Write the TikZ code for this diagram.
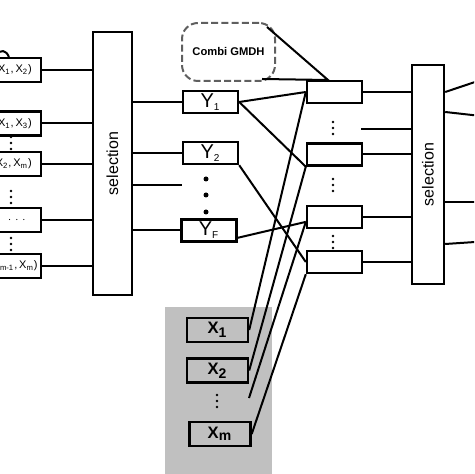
\documentclass[tikz,border=0pt]{standalone}
\usepackage{fontspec}
\setmainfont{Liberation Sans}
\usetikzlibrary{calc}
\definecolor{inshade}{RGB}{192,192,192}
\definecolor{dashgray}{RGB}{95,95,95}
\tikzset{
  unitbox/.style={draw,line width=1.2pt,fill=white,inner sep=0pt,minimum width=27.5pt,minimum height=11pt},
  pairbox/.style={unitbox,anchor=east,inner xsep=4.5pt,minimum height=12pt,font=\fontsize{5.5}{6}\selectfont},
  ybox/.style={unitbox,font=\fontsize{10}{11}\selectfont},
  inbox/.style={unitbox,fill=inshade,minimum width=30.5pt,minimum height=12pt,font=\fontsize{8.3}{9}\selectfont\bfseries},
  selbox/.style={draw,line width=1.2pt,fill=white,inner sep=0pt,font=\fontsize{8}{9}\selectfont},
  wire/.style={line width=1pt},
  bullet/.style={circle,fill=black,inner sep=0pt,minimum size=2.5pt},
}
\newcommand{\vdotcol}[1]{\foreach \d in {-6,0,6} \fill (#1) ++(0,\d) circle (0.7pt);}

\begin{document}
\begin{tikzpicture}[x=0.5pt,y=-0.5pt]
  \useasboundingbox (0,0) rectangle (474,474);
  \clip (0,0) rectangle (474,474);
  \fill[inshade] (165,307) rectangle (272,480);

  % first layer: pairs
  \node[pairbox] (p1) at (42,70) {(X\textsubscript{1},\,X\textsubscript{2})};
  \node[pairbox] (p2) at (42,123.5) {(X\textsubscript{1},\,X\textsubscript{3})};
  \node[pairbox] (p3) at (42,164) {(X\textsubscript{2},\,X\textsubscript{m})\hspace{2pt}};
  \node[pairbox,minimum width=24pt] (p4) at (42,220) {$\cdots$};
  \node[pairbox,inner xsep=1.5pt] (p5) at (42,266) {(X\textsubscript{m-1},\,X\textsubscript{m})};
  \vdotcol{11,143} \vdotcol{11,197} \vdotcol{11,244}
  \draw[wire] (-4,55) .. controls (1,49) and (6,50) .. (9,57);

  \node[selbox,minimum width=19.5pt,minimum height=131.5pt] (sel1) at (112.5,163.5) {\rotatebox{90}{selection}};
  \foreach \p in {p1,p2,p3,p4,p5}
    \draw[wire] (\p.east) -- (\p.east -| sel1.west);

  % selected outputs
  \node[ybox] (y1) at (210.5,102) {Y\textsubscript{\tiny 1}};
  \node[ybox] (y2) at (210.5,153) {Y\textsubscript{\tiny 2}};
  \node[ybox] (yF) at (209,230.5) {Y\textsubscript{\tiny F}};
  \coordinate (yfree) at (182,185);
  \foreach \yy in {179,195,212}
    \node[bullet] at (206,\yy) {};
  \draw[wire] (sel1.east |- y1.west) -- (y1.west);
  \draw[wire] (sel1.east |- y2.west) -- (y2.west);
  \draw[wire] (sel1.east |- yfree) -- (yfree);
  \draw[wire] (sel1.east |- yF.west) -- (yF.west);

  \node[draw=dashgray,line width=1pt,dash pattern=on 3.5pt off 1.6pt,rounded corners=8pt,minimum width=46.5pt,minimum height=29pt,font=\fontsize{5.6}{6}\selectfont\bfseries] (combi) at (228.5,52) {Combi GMDH};

  % second layer
  \node[unitbox] (r1) at (334.5,92) {};
  \node[unitbox] (r2) at (334.5,154.5) {};
  \node[unitbox] (r3) at (334.5,217) {};
  \node[unitbox] (r4) at (334.5,262) {};
  \vdotcol{333,128} \vdotcol{333,185} \vdotcol{333,242}
  \coordinate (tip) at (328,80);
  \coordinate (c1) at (267,27);
  \coordinate (c2) at (262,79);
  \draw[wire] (c1) -- (tip) -- (c2);

  % inputs
  \node[inbox] (x1) at (217.5,330) {X\textsubscript{\scriptsize 1}};
  \node[inbox] (x2) at (217.5,370.5) {X\textsubscript{\scriptsize 2}};
  \node[inbox] (xm) at (220,434) {X\textsubscript{\scriptsize m}};
  \vdotcol{217,401}
  \coordinate (xfree) at (249,398);

  \draw[wire] (y1.east) -- (r1.west);
  \draw[wire] (y1.east) -- (r2.south west);
  \draw[wire] (y2.south east) -- (r4.west);
  \draw[wire] ($(yF.east)!0.6!(yF.south east)$) -- ($(r3.west)!0.4!(r3.south west)$);
  \draw[wire] (x1.east) -- (r1.west);
  \draw[wire] (x2.east) -- (r2.south west);
  \draw[wire] (xfree) -- ($(r3.west)!0.4!(r3.south west)$);
  \draw[wire] (xm.east) -- (r4.south west);

  \node[selbox,minimum width=16pt,minimum height=109.5pt] (sel2) at (428,174.5) {\rotatebox{90}{selection}};
  \coordinate (rfree) at (361,129);
  \foreach \r in {r1,r2,r3,r4}
    \draw[wire] (\r.east) -- (\r.east -| sel2.west);
  \draw[wire] (rfree) -- (rfree -| sel2.west);

  % outputs leaving the picture
  \coordinate (o1) at (490,77);
  \coordinate (o2) at (490,117);
  \coordinate (o3) at (490,202);
  \coordinate (o4) at (490,241);
  \draw[wire] (sel2.east |- 0,92) -- (o1);
  \draw[wire] (sel2.east |- 0,112) -- (o2);
  \draw[wire] (sel2.east |- 0,202) -- (o3);
  \draw[wire] (sel2.east |- 0,244) -- (o4);
\end{tikzpicture}
\end{document}
